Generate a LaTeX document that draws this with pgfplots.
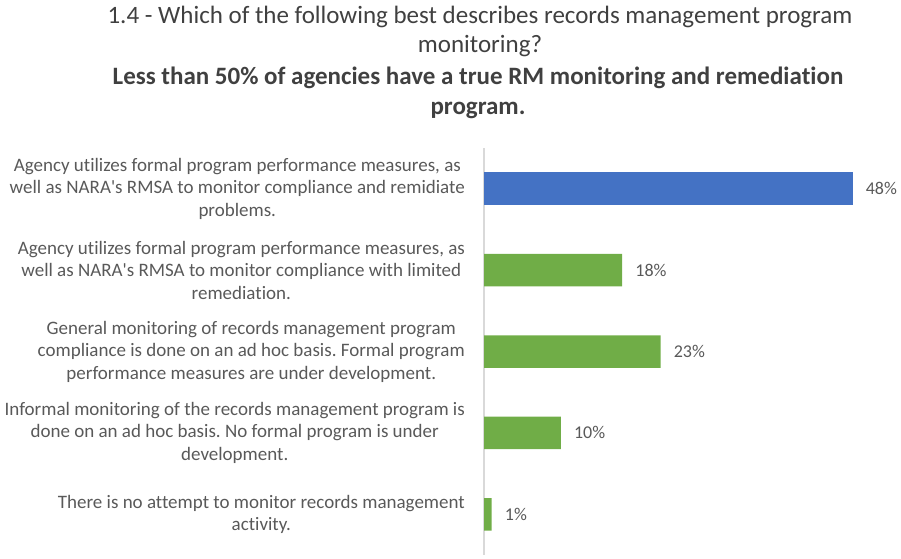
\documentclass[border=0pt]{standalone}
\usepackage{fontspec}
\defaultfontfeatures[\rmfamily]{}
\setmainfont{Carlito}[Ligatures={NoCommon}]
\usepackage{pgfplots}
\pgfplotsset{compat=1.18}
\definecolor{rmblue}{HTML}{4472C4}
\definecolor{rmgreen}{HTML}{70AD47}
\definecolor{txtgray}{HTML}{595959}
\definecolor{ttlgray}{HTML}{404040}
\definecolor{axgray}{HTML}{D9D9D9}
\frenchspacing

\begin{document}
\begin{tikzpicture}[x=1pt,y=1pt]
\useasboundingbox (0,0) rectangle (901,558);
% titles
\node[anchor=base, text=ttlgray, font=\fontsize{25}{30}\selectfont] at (480,534) {1.4 - Which of the following best describes records management program};
\node[anchor=base, text=ttlgray, font=\fontsize{25}{30}\selectfont] at (480,505) {monitoring?};
\node[anchor=base, text=ttlgray, font=\bfseries\fontsize{25}{30}\selectfont] at (478,473) {Less than 50\% of agencies have a true RM monitoring and remediation};
\node[anchor=base, text=ttlgray, font=\bfseries\fontsize{25}{30}\selectfont] at (478,443) {program.};

\begin{axis}[
    at={(484pt,3pt)}, anchor=south west,
    scale only axis, width=414.72pt, height=407pt,
    xbar, bar width=32.5pt,
    xmin=0, xmax=54, ymin=-0.5, ymax=4.5, y dir=reverse,
    axis x line=none, axis y line=left,
    y axis line style={-, draw=axgray, line width=1.5pt},
    ytick={0,...,4}, major tick length=0pt,
    yticklabels={
        {Agency utilizes formal program performance measures, as\\well as NARA's RMSA to monitor compliance and remidiate\\problems.},
        {Agency utilizes formal program performance measures, as\\well as NARA's RMSA to monitor compliance with limited\\remediation.},
        {General monitoring of records management program\\compliance is done on an ad hoc basis. Formal program\\performance measures are under development.},
        {Informal monitoring of the records management program is\\done on an ad hoc basis. No formal program is under\\development.},
        {There is no attempt to monitor records management\\activity.}
    },
    yticklabel style={align=center, text=txtgray, font=\fontsize{19}{22.5}\selectfont, inner sep=0pt, xshift=-19pt},
    point meta=x,
    /pgf/number format/assume math mode=true,
    nodes near coords={\pgfmathprintnumber{\pgfplotspointmeta}\%},
    nodes near coords style={text=txtgray, font=\fontsize{18}{22}\selectfont, anchor=west, inner sep=0pt, xshift=13pt},
]
\addplot[fill=rmblue, draw=none, bar shift=0pt] coordinates {(48,0)};
\addplot[fill=rmgreen, draw=none, bar shift=0pt] coordinates {(18,1) (23,2) (10,3) (1,4)};
\end{axis}
\end{tikzpicture}
\end{document}
